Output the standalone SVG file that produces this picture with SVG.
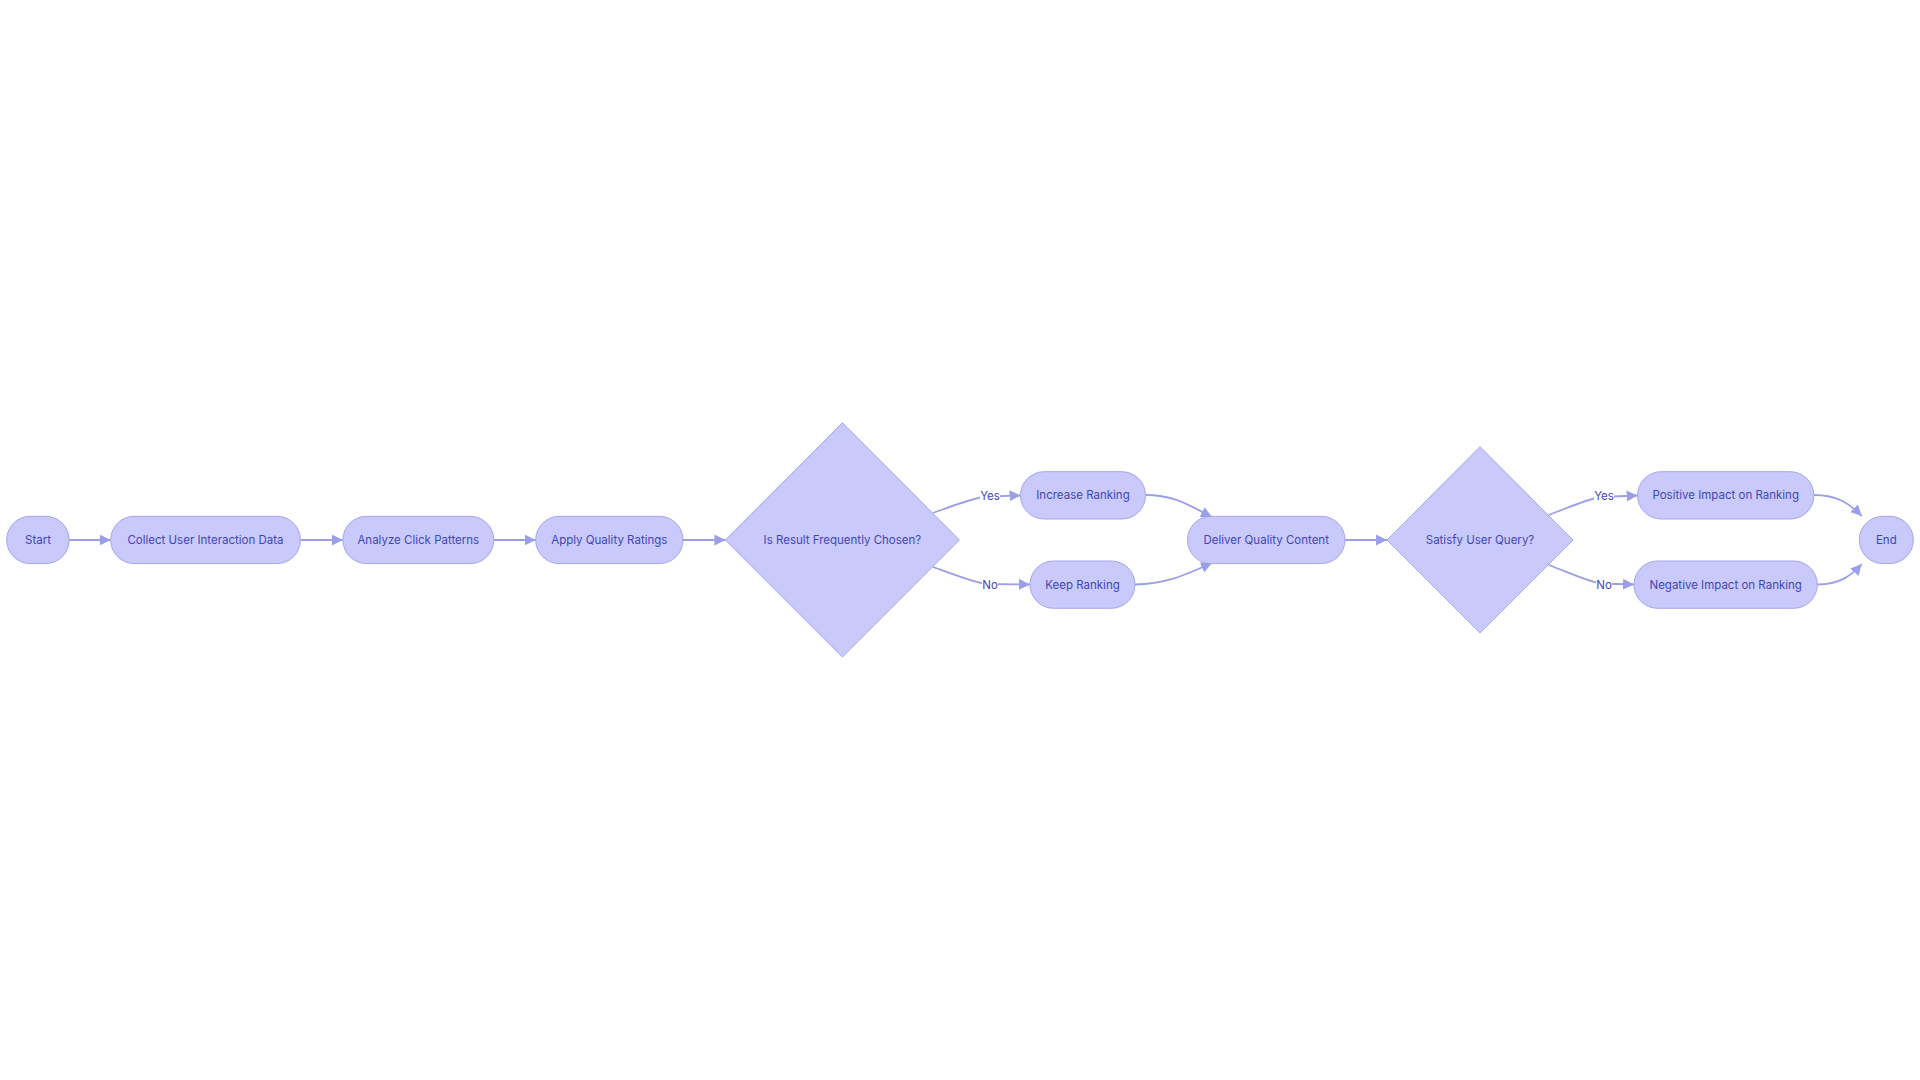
<svg xmlns="http://www.w3.org/2000/svg" width="1920" height="1080" viewBox="0 0 1920 1080">
<style>
.node rect, .node polygon { fill: #c9cafb; stroke: #a3a5ec; stroke-width: 1; }
.node text { font-family: Inter, "Noto Sans", "Liberation Sans", sans-serif; font-size: 11.5px; fill: #4246b8; text-anchor: middle; dominant-baseline: central; }
.edges path { fill: none; stroke: #9b9ee8; stroke-width: 1.8; marker-end: url(#arrow); }
.elabel rect { fill: #ffffff; }
.elabel text { font-family: Inter, "Noto Sans", "Liberation Sans", sans-serif; font-size: 11.5px; fill: #4246b8; text-anchor: middle; dominant-baseline: central; }
</style>
<defs>
<marker id="arrow" markerUnits="userSpaceOnUse" markerWidth="12" markerHeight="12" refX="11" refY="5.5" orient="auto">
<path d="M0,0 L11,5.5 L0,11 z" fill="#9b9ee8"/>
</marker>
</defs>
<rect x="0" y="0" width="1920" height="1080" fill="#ffffff"/>
<g id="connectors" class="edges">
<path d="M69.2,540 L110.7,540"/>
<path d="M300.4,540 L342.9,540"/>
<path d="M493.8,540 L535.7,540"/>
<path d="M683,540 L725.4,540"/>
<path d="M933,513 C955,505 970,499 985,496.5 L1020.5,495.5"/>
<path d="M933,567 C955,575 970,581 985,584 L1030,584.5"/>
<path d="M1145.5,495 C1175,495 1190,506 1212,517"/>
<path d="M1135,584.5 C1165,584.5 1185,575 1212,563"/>
<path d="M1345,540 L1387,540"/>
<path d="M1548.7,515 C1570,507 1585,500 1600,497 L1637.6,495.5"/>
<path d="M1548.7,565 C1570,573 1585,580 1600,583.5 L1634,584.5"/>
<path d="M1813.9,495 C1838,495 1850,504 1861.7,516"/>
<path d="M1817.3,584.5 C1840,584.5 1852,575 1861.7,564"/>
</g>
<g id="edge-labels">
<g class="elabel"><rect x="980" y="489" width="20" height="14"/><text x="990" y="496">Yes</text></g>
<g class="elabel"><rect x="982" y="578" width="16" height="14"/><text x="990" y="585">No</text></g>
<g class="elabel"><rect x="1594" y="489" width="20" height="14"/><text x="1604" y="496">Yes</text></g>
<g class="elabel"><rect x="1596" y="578" width="16" height="14"/><text x="1604" y="585">No</text></g>
</g>
<g id="start" class="node"><rect x="6.7" y="516.3" width="62.5" height="47.3" rx="23.6"/><text x="38" y="540">Start</text></g>
<g id="collect" class="node"><rect x="110.7" y="516.3" width="189.7" height="47.3" rx="23.6"/><text x="205.5" y="540">Collect User Interaction Data</text></g>
<g id="analyze" class="node"><rect x="342.9" y="516.3" width="150.9" height="47.3" rx="23.6"/><text x="418.3" y="540">Analyze Click Patterns</text></g>
<g id="apply" class="node"><rect x="535.7" y="516.3" width="147.3" height="47.3" rx="23.6"/><text x="609.3" y="540">Apply Quality Ratings</text></g>
<g id="chosen" class="node"><polygon points="842.4,422.7 959.4,540 842.4,657 725.4,540"/><text x="842.4" y="540">Is Result Frequently Chosen?</text></g>
<g id="increase" class="node"><rect x="1020.5" y="471.7" width="125" height="47.3" rx="23.6"/><text x="1083" y="495.3">Increase Ranking</text></g>
<g id="keep" class="node"><rect x="1030" y="561" width="105" height="47.3" rx="23.6"/><text x="1082.5" y="584.6">Keep Ranking</text></g>
<g id="deliver" class="node"><rect x="1187.5" y="516.3" width="157.5" height="47.3" rx="23.6"/><text x="1266.2" y="540">Deliver Quality Content</text></g>
<g id="satisfy" class="node"><polygon points="1480,446.7 1573,540 1480,633 1387,540"/><text x="1480" y="540">Satisfy User Query?</text></g>
<g id="positive" class="node"><rect x="1637.6" y="471.7" width="176.3" height="47.3" rx="23.6"/><text x="1725.7" y="495.3">Positive Impact on Ranking</text></g>
<g id="negative" class="node"><rect x="1634" y="561" width="183.3" height="47.3" rx="23.6"/><text x="1725.7" y="584.6">Negative Impact on Ranking</text></g>
<g id="end" class="node"><rect x="1859.3" y="516.3" width="54" height="47.3" rx="23.6"/><text x="1886.3" y="540">End</text></g>
</svg>
